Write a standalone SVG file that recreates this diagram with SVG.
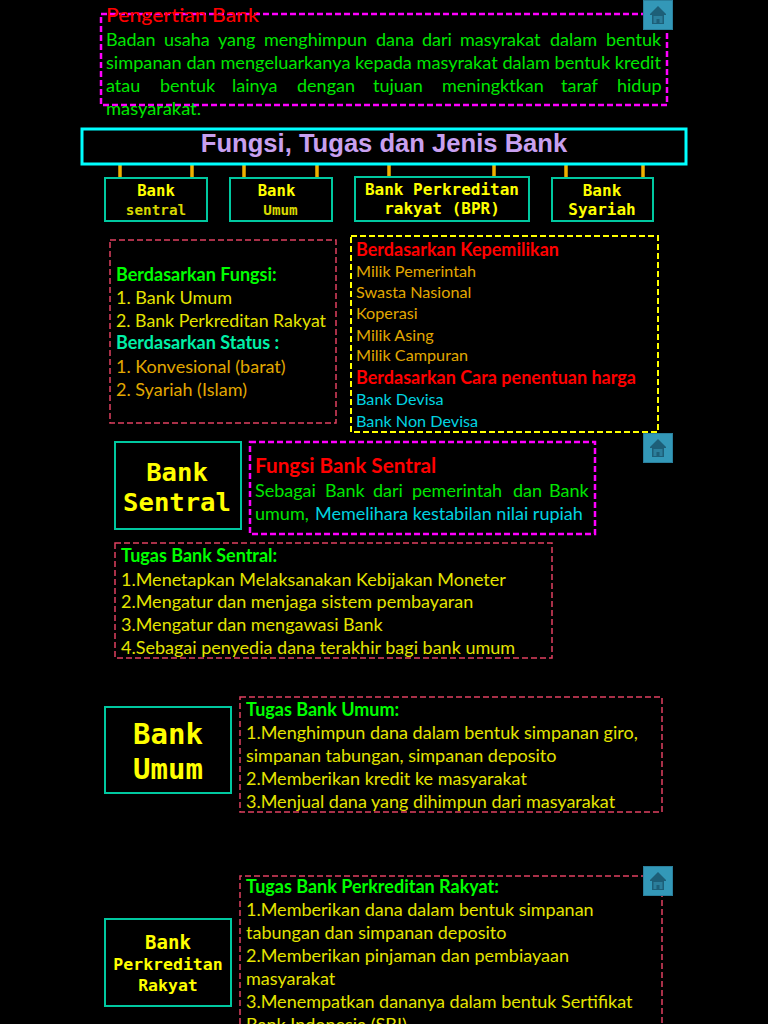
<svg xmlns="http://www.w3.org/2000/svg" width="768" height="1024" viewBox="0 0 768 1024">
<style>
text{font-family:"Lato","Liberation Sans",sans-serif;font-size:18px}
.m{font-family:"DejaVu Sans Mono","Liberation Mono",monospace;font-weight:700;fill:#ffff00;text-anchor:middle}
.b{font-weight:700}
.s{font-size:16.2px}
.g{fill:#00e600}.lg{fill:#00ff00}.r{fill:#ff0000}.y{fill:#e4e400}.o{fill:#e2a800}.c{fill:#00d4e0}.t{fill:#00f0a8}
.box{fill:none;stroke:#00c8a0;stroke-width:2}
.d{fill:none;stroke-dasharray:6 3}
.mg{stroke:#ff00ff;stroke-width:2.5}
.rd{stroke:#e04060;stroke-width:1.5}
.yl{stroke:#ffff00;stroke-width:2}
.conn{stroke:#f0b000;stroke-width:3.5;fill:none}
</style>
<defs>
<g id="home">
<rect x="0" y="0" width="30" height="30" fill="#3398b8"/>
<rect x=".5" y=".5" width="29" height="29" fill="none" stroke="#2a7f9c"/>
<path d="M15 6L23 14V15H21V24H9V15H7V14Z" fill="#1d5f78"/>
<rect x="10.500" y="16" width="9" height="7" fill="#2c7f9c"/>
<rect x="13.500" y="19" width="3" height="5" fill="#1d5f78"/>
</g>
</defs>
<rect width="768" height="1024" fill="#000"/>

<g id="connectors" class="conn">
<path d="M120 164V178M192 164V178M244 164V178M317 164V178M389 164V177M494 164V177M566 164V178M643 164V178"/>
</g>

<g id="pengertian">
<rect class="d mg" x="101" y="14" width="566" height="91"/>
<text class="r" x="106" y="22" textLength="153" lengthAdjust="spacingAndGlyphs" style="font-size:20px;font-weight:500">Pengertian Bank</text>
<text class="g" y="46"><tspan x="106">Badan</tspan><tspan x="164">usaha</tspan><tspan x="218">yang</tspan><tspan x="264">menghimpun</tspan><tspan x="376">dana</tspan><tspan x="422">dari</tspan><tspan x="460">masyrakat</tspan><tspan x="550">dalam</tspan><tspan x="606">bentuk</tspan></text>
<text class="g" x="106" y="69" textLength="555" lengthAdjust="spacingAndGlyphs">simpanan dan mengeluarkanya kepada masyrakat dalam bentuk kredit</text>
<text class="g" y="92"><tspan x="106">atau</tspan><tspan x="160">bentuk</tspan><tspan x="232">lainya</tspan><tspan x="297">dengan</tspan><tspan x="373">tujuan</tspan><tspan x="442">meningktkan</tspan><tspan x="561">taraf</tspan><tspan x="617">hidup</tspan></text>
<text class="g" x="106" y="115" textLength="95" lengthAdjust="spacingAndGlyphs">masyarakat.</text>
<use href="#home" x="643" y="0"/>
</g>

<g id="judul">
<rect x="82" y="129" width="604" height="35" fill="#000" stroke="#00ffff" stroke-width="3"/>
<text x="384" y="152" text-anchor="middle" style="font-family:'Liberation Sans',sans-serif;font-size:25.6px;font-weight:700" fill="#c8a0f0">Fungsi, Tugas dan Jenis Bank</text>
</g>

<g id="n-sentral">
<rect class="box" x="105" y="178" width="102" height="43"/>
<text class="m" x="156" y="196" style="font-size:15.600px">Bank</text>
<text class="m" x="156" y="215" style="font-size:14.300px;fill:#d8d800">sentral</text>
</g>
<g id="n-umum">
<rect class="box" x="230" y="178" width="102" height="43"/>
<text class="m" x="276.500" y="196" style="font-size:15.600px">Bank</text>
<text class="m" x="280.500" y="215" style="font-size:14.300px;fill:#d8d800">Umum</text>
</g>
<g id="n-bpr">
<rect class="box" x="355" y="177" width="174" height="44"/>
<text class="m" x="442" y="195" style="font-size:16px" textLength="154">Bank Perkreditan</text>
<text class="m" x="442" y="214" style="font-size:16px">rakyat (BPR)</text>
</g>
<g id="n-syariah">
<rect class="box" x="552" y="178" width="101" height="43"/>
<text class="m" x="602" y="196" style="font-size:16px">Bank</text>
<text class="m" x="602" y="215" style="font-size:16px">Syariah</text>
</g>

<g id="fungsi-status">
<rect class="d rd" x="110" y="240" width="226" height="183"/>
<text class="lg b" x="116" y="281">Berdasarkan Fungsi:</text>
<text class="y" x="116" y="304">1. Bank Umum</text>
<text class="y" x="116" y="327" textLength="210" lengthAdjust="spacingAndGlyphs">2. Bank Perkreditan Rakyat</text>
<text class="t b" x="116" y="349">Berdasarkan Status :</text>
<text class="o" x="116" y="373">1. Konvesional (barat)</text>
<text class="o" x="116" y="396">2. Syariah (Islam)</text>
</g>

<g id="kepemilikan">
<rect class="d yl" x="351" y="236" width="307" height="196"/>
<text class="r b" x="356" y="256">Berdasarkan Kepemilikan</text>
<text class="o s" x="356" y="277">Milik Pemerintah</text>
<text class="o s" x="356" y="298">Swasta Nasional</text>
<text class="o s" x="356" y="319">Koperasi</text>
<text class="o s" x="356" y="341">Milik Asing</text>
<text class="o s" x="356" y="361">Milik Campuran</text>
<text class="r b" x="356" y="384" textLength="280" lengthAdjust="spacingAndGlyphs">Berdasarkan Cara penentuan harga</text>
<text class="c s" x="356" y="405">Bank Devisa</text>
<text class="c s" x="356" y="427">Bank Non Devisa</text>
</g>

<g id="n-banksentral">
<rect class="box" x="115" y="442" width="126" height="87"/>
<text class="m" x="177" y="481" style="font-size:25.600px">Bank</text>
<text class="m" x="177" y="511" style="font-size:25.600px">Sentral</text>
</g>

<g id="fungsi-sentral">
<rect class="d mg" x="250" y="442" width="345" height="92"/>
<text class="r b" x="255" y="473" style="font-size:20.700px">Fungsi Bank Sentral</text>
<text class="g" y="497"><tspan x="255">Sebagai</tspan><tspan x="325">Bank</tspan><tspan x="373">dari</tspan><tspan x="412">pemerintah</tspan><tspan x="513">dan</tspan><tspan x="549">Bank</tspan></text>
<text x="255" y="520"><tspan class="g">umum,</tspan><tspan class="c" x="315">Memelihara kestabilan nilai rupiah</tspan></text>
<use href="#home" x="643" y="433"/>
</g>

<g id="tugas-sentral">
<rect class="d rd" x="115" y="543" width="437" height="115"/>
<text class="lg b" x="121" y="562">Tugas Bank Sentral:</text>
<text class="y" x="121" y="586">1.Menetapkan Melaksanakan Kebijakan Moneter</text>
<text class="y" x="121" y="608">2.Mengatur dan menjaga sistem pembayaran</text>
<text class="y" x="121" y="631">3.Mengatur dan mengawasi Bank</text>
<text class="y" x="121" y="654">4.Sebagai penyedia dana terakhir bagi bank umum</text>
</g>

<g id="n-bankumum">
<rect class="box" x="105" y="707" width="126" height="86"/>
<text class="m" x="168" y="744" style="font-size:29px">Bank</text>
<text class="m" x="168" y="779" style="font-size:29px">Umum</text>
</g>

<g id="tugas-umum">
<rect class="d rd" x="240" y="697" width="422" height="115"/>
<text class="lg b" x="246" y="716">Tugas Bank Umum:</text>
<text class="y" x="246" y="739">1.Menghimpun dana dalam bentuk simpanan giro,</text>
<text class="y" x="246" y="762">simpanan tabungan, simpanan deposito</text>
<text class="y" x="246" y="785">2.Memberikan kredit ke masyarakat</text>
<text class="y" x="246" y="808">3.Menjual dana yang dihimpun dari masyarakat</text>
</g>

<g id="n-bankbpr">
<rect class="box" x="105" y="919" width="126" height="87"/>
<text class="m" x="168" y="949" style="font-size:19px">Bank</text>
<text class="m" x="168" y="970" style="font-size:16.500px">Perkreditan</text>
<text class="m" x="168" y="991" style="font-size:16.500px">Rakyat</text>
</g>

<g id="tugas-bpr">
<path class="d rd" d="M240 1024V876H662V1024"/>
<text class="lg b" x="246" y="893">Tugas Bank Perkreditan Rakyat:</text>
<text class="y" x="246" y="916">1.Memberikan dana dalam bentuk simpanan</text>
<text class="y" x="246" y="939">tabungan dan simpanan deposito</text>
<text class="y" x="246" y="962">2.Memberikan pinjaman dan pembiayaan</text>
<text class="y" x="246" y="985">masyarakat</text>
<text class="y" x="246" y="1008">3.Menempatkan dananya dalam bentuk Sertifikat</text>
<text class="y" x="246" y="1031">Bank Indonesia (SBI)</text>
<use href="#home" x="643" y="866"/>
</g>
</svg>
